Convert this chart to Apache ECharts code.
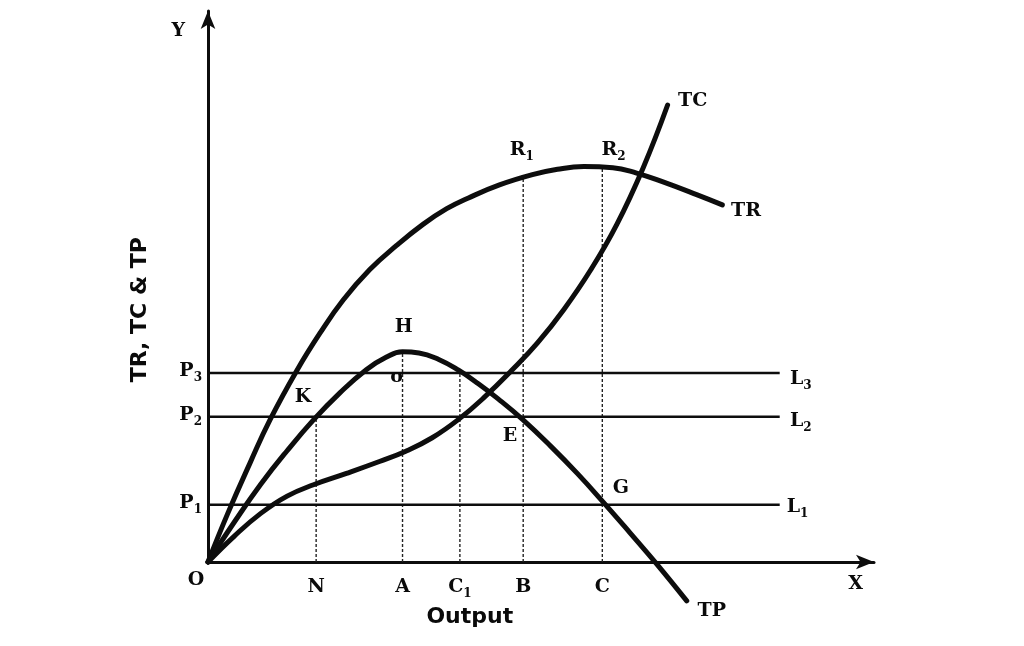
<!DOCTYPE html>
<html>
<head>
<meta charset="utf-8">
<script src="https://cdn.jsdelivr.net/npm/echarts@6/dist/echarts.min.js"></script>
<style>
html,body{margin:0;padding:0;background:#fff;}
#c{width:1024px;height:646px;}
</style>
</head>
<body>
<div id="c"></div>
<script>
// ---- data ----
const xTickValues = [16.4, 29.5, 38.2, 47.8, 59.8];
const xTickNames  = ['N', 'A', 'C1', 'B', 'C'];
const yTickValues = [10.6, 26.9, 35.0];
const yTickNames  = ['P1', 'P2', 'P3'];
const guideTops   = [26.9, 38.9, 35.0, 71.5, 73.1];
const levelEndX   = 86.7;

const trData = [[0,0],[3,9.0],[6.4,18.4],[9.4,26.3],[13.5,35.5],[17.0,42.4],[20.5,48.5],[24.5,54.1],[28.6,58.6],[32.6,62.5],[36.2,65.4],[39.5,67.4],[44.2,69.8],[49.2,71.7],[53,72.7],[57,73.2],[61.4,73.0],[65.0,72.0],[68.9,70.4],[74.1,68.0],[78.0,66.1]];
const tcData = [[0,0],[4,4.8],[8,9.0],[12,12.2],[16,14.3],[21,16.4],[26,18.6],[30,20.5],[34,23.0],[38,26.4],[42,30.6],[46,35.4],[50,40.6],[54,46.8],[58,54.0],[62,62.5],[66,73.0],[69.7,84.6]];
const tpData = [[0,0],[4,7.4],[8,14.4],[12,20.6],[16,26.3],[20,31.3],[24,35.6],[27,37.9],[29.5,38.9],[32,38.7],[35,37.5],[38,35.5],[41,33.0],[44,30.2],[47.7,26.4],[52,21.4],[56,16.4],[60,11.0],[64,5.4],[68,-0.3],[72.6,-7.2]];

const pointLabels = [
  {name:'TC', value:[73.5, 85.0]},
  {name:'TR', value:[81.6, 64.6]},
  {name:'TP', value:[76.4, -9.4]},
  {name:'R1', value:[47.6, 76.0]},
  {name:'R2', value:[61.5, 76.0]},
  {name:'H',  value:[29.7, 43.2]},
  {name:'K',  value:[14.4, 30.3]},
  {name:'E',  value:[45.8, 23.1]},
  {name:'G',  value:[62.6, 13.5]},
  {name:'o',  value:[28.6, 34.0]},
  {name:'L3', value:[89.9, 33.6]},
  {name:'L2', value:[89.9, 25.8]},
  {name:'L1', value:[89.4, 9.9]},
  {name:'O',  value:[-1.8, -3.7]},
  {name:'X',  value:[98.2, -4.4]},
  {name:'Y',  value:[-4.5, 98.1]}
];
const xTitle = 'Output';
const yTitle = 'TR, TC & TP';

// ---- helpers ----
function sub(t){
  const m = t.match(/^([A-Za-z]+)(\d)$/);
  return m ? '{m|' + m[1] + '}{s|' + m[2] + '}' : '{m|' + t + '}';
}
const serif = 'DejaVu Serif';
const rich = {
  m:{fontFamily:serif, fontWeight:'bold', fontSize:19, color:'#0a0a0a', verticalAlign:'top', lineHeight:22},
  s:{fontFamily:serif, fontWeight:'bold', fontSize:12, color:'#0a0a0a', verticalAlign:'top', padding:[10,0,0,0], lineHeight:22}
};
const ink = '#0d0d0d';

const series = [];
// horizontal levels
yTickValues.forEach(v => series.push({type:'line', data:[[0,v],[levelEndX,v]], showSymbol:false, silent:true,
  lineStyle:{color:ink, width:2.4}, z:2}));
// vertical dotted guides
xTickValues.forEach((v,i) => series.push({type:'line', data:[[v,0],[v,guideTops[i]]], showSymbol:false, silent:true,
  lineStyle:{color:'#222', width:1.4, type:[3,2]}, z:1}));
// curves
[trData, tcData, tpData].forEach(d => series.push({type:'line', data:d, smooth:0.45, showSymbol:false, clip:false,
  lineStyle:{color:ink, width:5, cap:'round'}, z:3}));
// labels
series.push({type:'scatter', symbolSize:0, silent:true, clip:false, z:5,
  itemStyle:{opacity:1},
  data: pointLabels.concat([
    {name:xTitle, value:[39.7,-10.3], label:{formatter:xTitle, fontFamily:'DejaVu Sans', fontWeight:'bold', fontSize:22, color:'#0a0a0a'}},
    {name:yTitle, value:[-10.3,46.7], label:{formatter:yTitle, rotate:90, fontFamily:'DejaVu Sans', fontWeight:'bold', fontSize:22, color:'#0a0a0a'}}
  ]),
  label:{show:true, position:'inside', color:'#0a0a0a', opacity:1, textBorderWidth:0, formatter:p => sub(p.name), rich:rich}
});

const chart = echarts.init(document.getElementById('c'), null, {renderer:'canvas'});
chart.setOption({
  backgroundColor:'#ffffff',
  animation:false,
  grid:{left:208, top:11, width:666, height:551},
  xAxis:{type:'value', min:0, max:101, splitLine:{show:false}, axisTick:{show:false},
    axisLine:{onZero:true, lineStyle:{color:ink, width:3}, symbol:['none','arrow'], symbolSize:[11,18]},
    axisLabel:{customValues:xTickValues, margin:16, formatter:v => sub(xTickNames[xTickValues.indexOf(v)] || ''), rich:rich}},
  yAxis:{type:'value', min:0, max:102, splitLine:{show:false}, axisTick:{show:false},
    axisLine:{onZero:true, lineStyle:{color:ink, width:3}, symbol:['none','arrow'], symbolSize:[11,18]},
    axisLabel:{customValues:yTickValues, margin:6, formatter:v => sub(yTickNames[yTickValues.indexOf(v)] || ''), rich:rich}},
  series:series
});
</script>
</body>
</html>
